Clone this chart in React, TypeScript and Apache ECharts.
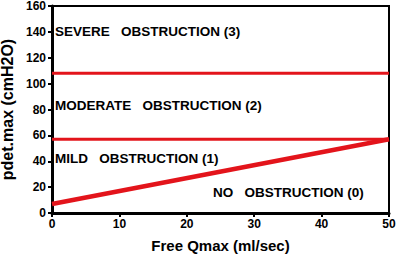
import React, { useEffect, useRef } from "react";
import * as echarts from "echarts";

const xTicks = [0, 10, 20, 30, 40, 50];
const severeLine = [[0, 108], [50, 108]];
const moderateLine = [[0, 57], [50, 57]];
const noObstructionLine = [[0, 7], [50, 57]];
const zoneLabels = [
  { x: 0.45, y: 140, text: "SEVERE\u00a0\u00a0\u00a0OBSTRUCTION (3)" },
  { x: 0.45, y: 83, text: "MODERATE\u00a0\u00a0\u00a0OBSTRUCTION (2)" },
  { x: 0.45, y: 42, text: "MILD\u00a0\u00a0\u00a0OBSTRUCTION (1)" },
  { x: 23.9, y: 16, text: "NO\u00a0\u00a0\u00a0OBSTRUCTION (0)" },
];

const FONT = "'Liberation Sans', Arial, sans-serif";
const RED = "#e3141b";

export default function App() {
  const ref = useRef<HTMLDivElement>(null);
  useEffect(() => {
    if (!ref.current) return;
    const chart = echarts.init(ref.current, null, { renderer: "svg" });
    const lineStyle = (w: number) => ({ color: RED, width: w });
    chart.setOption({
      animation: false,
      backgroundColor: "#ffffff",
      grid: {
        left: 52,
        right: 8,
        top: 6,
        bottom: 42,
        show: true,
        borderColor: "#000",
        borderWidth: 2,
        containLabel: false,
        outerBoundsMode: "none",
      },
      xAxis: {
        type: "value",
        min: 0,
        max: 50,
        interval: 10,
        name: "Free Qmax (ml/sec)",
        nameLocation: "middle",
        nameGap: 25,
        nameTextStyle: { fontFamily: FONT, fontWeight: "bold", fontSize: 15, color: "#000" },
        axisLine: { show: true, lineStyle: { color: "#000", width: 3 } },
        axisTick: { show: true, length: 4, lineStyle: { color: "#000", width: 2 } },
        axisLabel: {
          fontFamily: FONT,
          fontWeight: "bold",
          fontSize: 12,
          color: "#000",
          margin: 5,
          customValues: xTicks,
        },
        splitLine: { show: false },
      },
      yAxis: {
        type: "value",
        min: 0,
        max: 160,
        interval: 20,
        name: "pdet.max (cmH2O)",
        nameLocation: "middle",
        nameGap: 34,
        nameTextStyle: { fontFamily: FONT, fontWeight: "bold", fontSize: 16, color: "#000" },
        axisLine: { show: true, lineStyle: { color: "#000", width: 3 } },
        axisTick: { show: true, length: 4, lineStyle: { color: "#000", width: 2 } },
        axisLabel: { fontFamily: FONT, fontWeight: "bold", fontSize: 12, color: "#000", margin: 6 },
        splitLine: { show: false },
      },
      series: [
        { type: "line", data: severeLine, symbol: "none", lineStyle: lineStyle(3), silent: true },
        { type: "line", data: moderateLine, symbol: "none", lineStyle: lineStyle(3), silent: true },
        { type: "line", data: noObstructionLine, symbol: "none", lineStyle: lineStyle(4.5), silent: true },
        {
          type: "scatter",
          symbolSize: 0,
          silent: true,
          itemStyle: { opacity: 1 },
          data: zoneLabels.map((d) => ({ value: [d.x, d.y], name: d.text })),
          label: {
            show: true,
            position: "right",
            distance: 0,
            formatter: (p: any) => p.name,
            fontFamily: FONT,
            fontWeight: "bold",
            fontSize: 13.5,
            color: "#000",
          },
        },
      ],
    });
    return () => chart.dispose();
  }, []);
  return (
    <div
      ref={ref}
      style={{ position: "fixed", left: 0, top: 0, width: 397, height: 255 }}
    />
  );
}
